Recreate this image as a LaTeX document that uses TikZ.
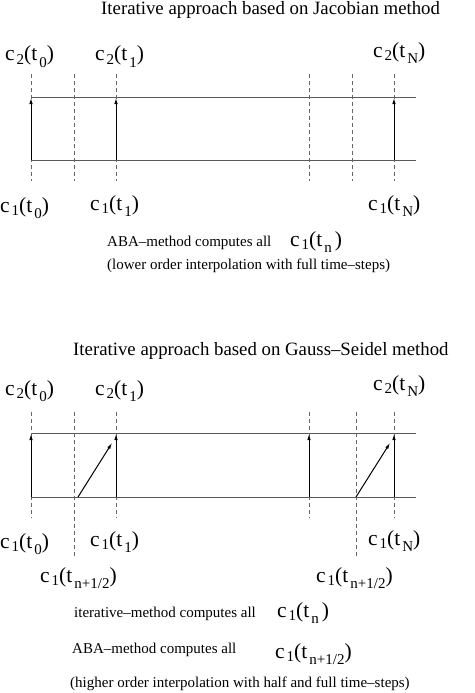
\documentclass[tikz,border=0pt]{standalone}
\usepackage{fontspec}
\setmainfont{Liberation Serif}
\usetikzlibrary{arrows.meta}
\newcommand\subsz{\fontsize{15}{15}\selectfont}
\newcommand\clab[2]{\fontsize{21.5}{21.5}\selectfont c\kern2pt\raisebox{-3pt}{\subsz #1}(t\kern2pt\raisebox{-6pt}{\subsz #2})}
\begin{document}
\begin{tikzpicture}[x=1pt,y=-1pt,
  hline/.style={draw=black!65, line width=0.8pt},
  dline/.style={draw=black!60, dash pattern=on 4pt off 3pt, line width=0.7pt},
  arr/.style={-{Latex[length=6pt,width=3.5pt]}, line width=1pt, draw=black},
  lab/.style={anchor=base west, inner sep=0pt},
  txt/.style={anchor=base west, inner sep=0pt, font=\fontsize{15}{18}\selectfont},
  ttl/.style={anchor=base west, inner sep=0pt, font=\fontsize{18.8}{22}\selectfont}]
\useasboundingbox (0,0) rectangle (474,693);
% ---------- top panel ----------
\node[ttl] (t1) at (101,15) {Iterative approach based on Jacobian method};
\coordinate (A1) at (31,97);  \coordinate (A2) at (416,97);
\coordinate (B1) at (31,160); \coordinate (B2) at (416,160);
\draw[hline] (A1) -- (A2);
\draw[hline] (B1) -- (B2);
\foreach \x [count=\i] in {31,74,116,309,352,394}{
  \coordinate (ud\i) at (\x,74); \coordinate (ld\i) at (\x,181);
  \draw[dline] (ud\i) -- (ld\i);
}
\foreach \x [count=\i] in {31,116,394}{
  \coordinate (ua\i) at (\x,98); \coordinate (la\i) at (\x,160);
  \draw[arr] (la\i) -- (ua\i);
}
\node[lab] (c20a) at (5,61) {\clab{2}{0}};
\node[lab] (c21a) at (95,61) {\clab{2}{1}};
\node[lab] (c2Na) at (373,57) {\clab{2}{N}};
\node[lab] (c10a) at (0,212) {\clab{1}{0}};
\node[lab] (c11a) at (90,210) {\clab{1}{1}};
\node[lab] (c1Na) at (368,210) {\clab{1}{N}};
\node[txt] (aba1) at (107,246) {ABA–method computes all};
\node[lab] (cn1) at (290,246) {\clab{1}{n\kern3pt}};
\node[txt] (low) at (107,269) {(lower order interpolation with full time–steps)};
% ---------- bottom panel ----------
\node[ttl] (t2) at (73,355) {Iterative approach based on Gauss–Seidel method};
\coordinate (C1) at (31,433);  \coordinate (C2) at (416,433);
\coordinate (D1) at (31,497);  \coordinate (D2) at (416,497);
\draw[hline] (C1) -- (C2);
\draw[hline] (D1) -- (D2);
\foreach \x/\e [count=\i] in {31/518,74/557,116/518,309/518,356/557,394/518}{
  \coordinate (uD\i) at (\x,412); \coordinate (lD\i) at (\x,\e);
  \draw[dline] (uD\i) -- (lD\i);
}
\foreach \x [count=\i] in {31,116,309,394}{
  \coordinate (uA\i) at (\x,434); \coordinate (lA\i) at (\x,497);
  \draw[arr] (lA\i) -- (uA\i);
}
\coordinate (s1) at (78,497);  \coordinate (e1) at (112,443);
\coordinate (s2) at (356,497); \coordinate (e2) at (390,443);
\draw[arr] (s1) -- (e1);
\draw[arr] (s2) -- (e2);
\node[lab] (c20b) at (5,395) {\clab{2}{0}};
\node[lab] (c21b) at (95,395) {\clab{2}{1}};
\node[lab] (c2Nb) at (373,390) {\clab{2}{N}};
\node[lab] (c10b) at (0,548) {\clab{1}{0}};
\node[lab] (c11b) at (90,546) {\clab{1}{1}};
\node[lab] (c1Nb) at (368,545) {\clab{1}{N}};
\node[lab] (ch1) at (40,582) {\clab{1}{n+1/2}};
\node[lab] (ch2) at (316,582) {\clab{1}{n+1/2}};
\node[txt] (itm) at (74,617) {iterative–method computes all};
\node[lab] (cn2) at (277,617) {\clab{1}{n\kern3pt}};
\node[txt] (aba2) at (72,653) {ABA–method computes all};
\node[lab] (ch3) at (275,658) {\clab{1}{n+1/2}};
\node[txt] (high) at (70,687) {(higher order interpolation with half and full time–steps)};
\end{tikzpicture}
\end{document}
